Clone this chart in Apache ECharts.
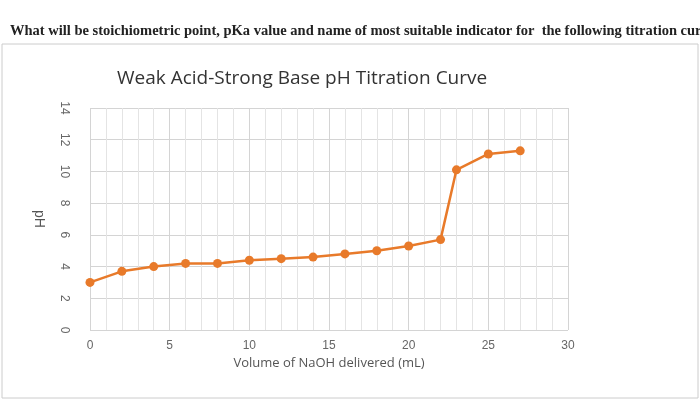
<!DOCTYPE html>
<html><head><meta charset="utf-8">
<script src="https://cdn.jsdelivr.net/npm/echarts@6/dist/echarts.min.js"></script>
<style>body{margin:0;background:#fff}#c{width:700px;height:401px}</style>
</head><body><div id="c"></div>
<script>
const volume=[0,2,4,6,8,10,12,14,16,18,20,22,23,25,27];
const pH=[3.0,3.7,4.0,4.2,4.2,4.4,4.5,4.6,4.8,5.0,5.3,5.7,10.1,11.1,11.3];
const question='What will be stoichiometric point, pKa value and name of most suitable indicator for  the following titration curve.';
const chart=echarts.init(document.getElementById('c'));
chart.setOption({
 backgroundColor:'#fff',
 graphic:[
  {type:'text',left:10,top:24,style:{text:question,font:'bold 14.5px "Liberation Serif"',fill:'#222'}},
  {type:'rect',shape:{x:2,y:44,width:696,height:354},style:{fill:'none',stroke:'#ccc',lineWidth:1}}
 ],
 title:{text:'Weak Acid-Strong Base pH Titration Curve',left:112,top:64,textStyle:{fontFamily:'Open Sans',fontWeight:'normal',fontSize:19,color:'#333'}},
 grid:{left:90,right:132,top:108,bottom:71},
 xAxis:{type:'value',min:0,max:30,interval:5,name:'Volume of NaOH delivered (mL)',nameLocation:'middle',nameGap:26,
  nameTextStyle:{fontSize:13,color:'#555',fontFamily:'Open Sans'},
  axisLine:{show:false},axisTick:{show:false},axisLabel:{color:'#666',fontSize:12,margin:10},
  minorTick:{show:false,splitNumber:5},minorSplitLine:{show:true,lineStyle:{color:'#e4e4e4'}},
  splitLine:{lineStyle:{color:'#d4d4d4'}}},
 yAxis:{type:'value',min:0,max:14,interval:2,name:'pH',nameLocation:'middle',nameGap:44,nameRotate:-90,
  nameTextStyle:{fontSize:14,color:'#555'},
  axisLine:{show:false},axisTick:{show:false},axisLabel:{color:'#666',fontSize:12,margin:20,rotate:-90},
  splitLine:{lineStyle:{color:'#d4d4d4'}}},
 series:[{type:'line',data:volume.map((v,i)=>[v,pH[i]]),symbol:'circle',symbolSize:9,
  lineStyle:{color:'#e87a2a',width:2.5},itemStyle:{color:'#e87a2a'}}]
});
</script></body></html>
